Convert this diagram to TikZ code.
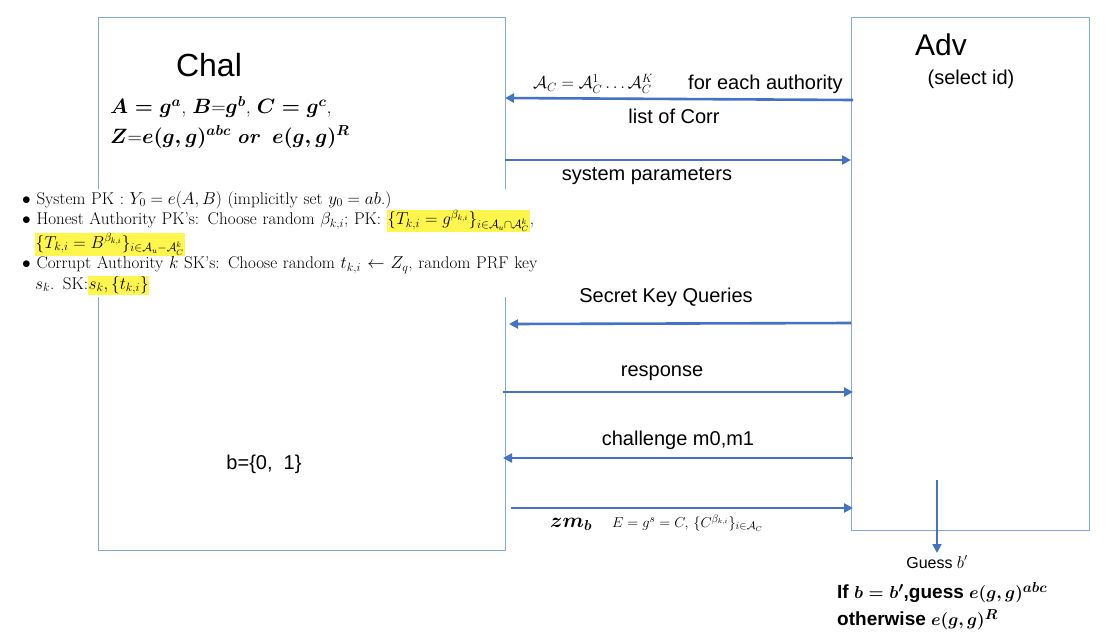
\documentclass[tikz,border=0pt]{standalone}
\usepackage{amsmath,amssymb}
\usepackage{fontspec}
\setsansfont{Liberation Sans}
\usepackage{xcolor}
\usetikzlibrary{arrows.meta}
\definecolor{arrc}{HTML}{4472C4}
\definecolor{boxc}{HTML}{7FA8DC}
\begin{document}
\begin{tikzpicture}[x=1pt,y=-1pt,
  box/.style={draw=boxc, line width=1pt},
  arr/.style={draw=arrc, line width=2.6pt, -{Triangle[length=9pt,width=9pt]}},
  lab/.style={font=\sffamily\fontsize{20}{24}\selectfont, inner sep=0pt}]
\useasboundingbox (0,0) rectangle (1109,633);
\fill[white] (0,0) rectangle (1109,633);
\draw[box] (98,17) rectangle (505,550);
\draw[box] (851,17) rectangle (1089,530);
\node[lab, font=\sffamily\fontsize{32}{36}\selectfont] (chal) at (209,65) {Chal};
\node[lab, font=\sffamily\fontsize{30}{34}\selectfont] (adv) at (941,45) {Adv};
\node[lab] (sel) at (971,79) {(select id)};
\node[anchor=west, inner sep=0pt, font=\fontsize{20}{24}\selectfont\boldmath] (eq1) at (110,107) {$A=g^{a}$, $B$=$g^{b}$, $C=g^{c}$,};
\node[anchor=west, inner sep=0pt, font=\fontsize{20}{24}\selectfont\boldmath] (eq2) at (110,137) {$Z$=$e(g,g)^{abc}$ \textit{\textbf{or}}\ \ $e(g,g)^{R}$};
\node[lab] (b) at (264,464) {b=\{0,\ \ 1\}};
% bullet block
\node[anchor=north west, fill=white, inner sep=2pt, text width=525pt, font=\fontsize{17}{20.5}\selectfont] (pk) at (20,189) {%
\hangindent=13pt\hangafter=1 $\bullet$\ System PK : $Y_0=e(A,B)$ (implicitly set $y_0=ab$.)\par
\hangindent=13pt\hangafter=1 $\bullet$\ Honest Authority PK's: Choose random $\beta_{k,i}$; PK: {\setlength{\fboxsep}{0.5pt}\colorbox{yellow!70}{$\{T_{k,i}=g^{\beta_{k,i}}\}_{i\in\mathcal{A}_u\cap\mathcal{A}_C^k}$}},\par
\hspace*{13pt}{\setlength{\fboxsep}{0.5pt}\colorbox{yellow!70}{$\{T_{k,i}=B^{\beta_{k,i}}\}_{i\in\mathcal{A}_u-\mathcal{A}_C^k}$}}\par
\hangindent=13pt\hangafter=1 $\bullet$\ Corrupt Authority $k$ SK's: Choose random $t_{k,i}\leftarrow Z_q$, random PRF key $s_k$. SK:{\setlength{\fboxsep}{0.5pt}\colorbox{yellow!70}{$s_k,\{t_{k,i}\}$}}\par};
% arrows
\coordinate (a1s) at (853,100); \coordinate (a1e) at (505,98);
\draw[arr] (a1s) -- (a1e);
\node[anchor=west, inner sep=0pt, font=\fontsize{17}{20}\selectfont] (l1) at (533,84) {$\mathcal{A}_C=\mathcal{A}_C^1\ldots\mathcal{A}_C^K$};
\node[lab, anchor=west] (l1b) at (688,84) {for each authority};
\node[lab] (l1c) at (674,116) {list of Corr};
\coordinate (a2s) at (505,160); \coordinate (a2e) at (851,160);
\draw[arr] (a2s) -- (a2e);
\node[lab] (l2) at (647,176) {system parameters};
\coordinate (a3s) at (851,323); \coordinate (a3e) at (509,324);
\draw[arr] (a3s) -- (a3e);
\node[lab] (l3) at (666,297) {Secret Key Queries};
\coordinate (a4s) at (503,392); \coordinate (a4e) at (853,392);
\draw[arr] (a4s) -- (a4e);
\node[lab] (l4) at (662,373) {response};
\coordinate (a5s) at (853,458); \coordinate (a5e) at (503,458);
\draw[arr] (a5s) -- (a5e);
\node[lab] (l5) at (678,440) {challenge m0,m1};
\coordinate (a6s) at (511,508); \coordinate (a6e) at (853,508);
\draw[arr] (a6s) -- (a6e);
\node[anchor=west, inner sep=0pt, font=\fontsize{20}{24}\selectfont\boldmath] (l6) at (550,524) {$zm_b$};
\node[anchor=west, inner sep=0pt, font=\fontsize{15}{18}\selectfont] (l6b) at (612,523) {$E=g^s=C,\,\{C^{\beta_{k,i}}\}_{i\in\mathcal{A}_C}$};
\coordinate (a7s) at (937,480); \coordinate (a7e) at (937,553);
\draw[arr, line width=1.8pt] (a7s) -- (a7e);
\node[lab, font=\sffamily\fontsize{16}{19}\selectfont] (g) at (937,562) {Guess $b'$};
\node[anchor=west, inner sep=0pt, font=\sffamily\bfseries\fontsize{19}{22}\selectfont\boldmath] (r1) at (837,593) {If $b=b'$,guess $e(g,g)^{abc}$};
\node[anchor=west, inner sep=0pt, font=\sffamily\bfseries\fontsize{19}{22}\selectfont\boldmath] (r2) at (837,620) {otherwise $e(g,g)^{R}$};
\end{tikzpicture}
\end{document}
